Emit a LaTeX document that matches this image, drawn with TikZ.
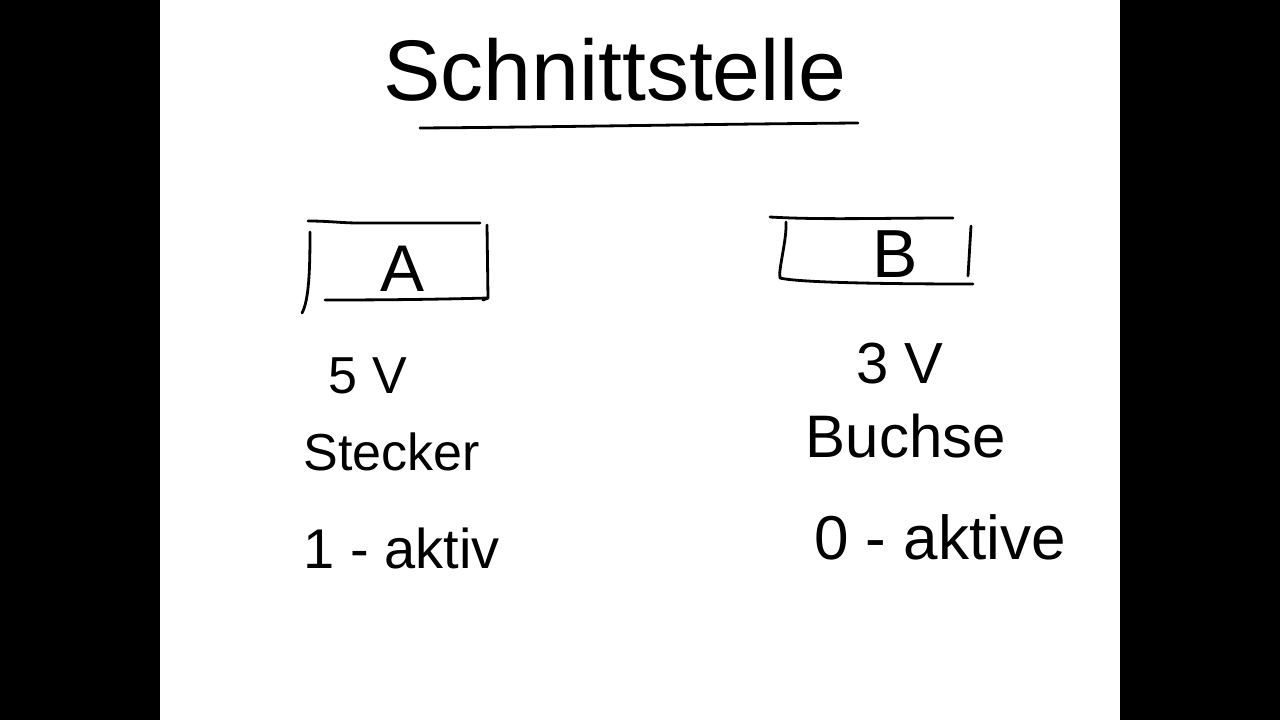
\documentclass[tikz,border=0pt]{standalone}
\usepackage{fontspec}
\setmainfont{Liberation Sans}
\tikzset{
  pen/.style={draw=black, line width=2.8pt, line cap=round, line join=round},
  hand/.style={inner sep=0pt, text=black, anchor=center},
}
\newcommand{\fs}[1]{\fontsize{#1}{#1}\selectfont}
\begin{document}
\begin{tikzpicture}[x=1pt,y=-1pt]
% frame: black side bars, white page
\fill[black] (0,0) rectangle (1280,720);
\fill[white] (160,0) rectangle (1120,720);
\useasboundingbox (0,0) rectangle (1280,720);

% title
\node[hand, font=\fs{86}] (title) at (615,70) {Schnittstelle};
\coordinate (ulL) at (420,128);
\coordinate (ulR) at (858,123);
\draw[pen] (ulL) .. controls (560,127) and (720,124) .. (ulR);

% box A
\coordinate (aTL) at (308,221);
\coordinate (aTR) at (480,223);
\coordinate (aL1) at (310,232);
\coordinate (aL2) at (302,313);
\coordinate (aR1) at (487,225);
\coordinate (aR2) at (488,298);
\coordinate (aBL) at (325,300);
\draw[pen] (aTL) .. controls (330,221) and (340,223) .. (360,223) -- (aTR);
\draw[pen] (aL1) .. controls (310,270) and (309,300) .. (aL2);
\draw[pen] (aR1) -- (aR2) -- (483,300);
\draw[pen] (aBL) .. controls (400,300) and (450,299) .. (aR2);
\node[hand, font=\fs{66}] (A) at (403,269) {A};

% box B
\coordinate (bTL) at (770,217);
\coordinate (bTR) at (953,218);
\coordinate (bL1) at (786,222);
\coordinate (bBL) at (780,278);
\coordinate (bBR) at (973,284);
\coordinate (bR1) at (971,226);
\coordinate (bR2) at (968,276);
\draw[pen] (bTL) .. controls (820,220) and (880,218) .. (bTR);
\draw[pen] (bL1) .. controls (787,240) and (778,270) .. (bBL)
  .. controls (800,283) and (900,284) .. (bBR);
\draw[pen] (bR1) -- (bR2);
\node[hand, font=\fs{68}] (B) at (895,254) {B};

% left column
\node[hand, font=\fs{52}] (vA) at (368,376) {5 V};
\node[hand, font=\fs{52}] (stecker) at (392,452) {Stecker};
\node[hand, font=\fs{56}] (aktA) at (402,548) {1 - aktiv};

% right column
\node[hand, font=\fs{58}] (vB) at (900,364) {3 V};
\node[hand, font=\fs{60}] (buchse) at (906,436) {Buchse};
\node[hand, font=\fs{62}] (aktB) at (940,537) {0 - aktive};
\end{tikzpicture}
\end{document}
